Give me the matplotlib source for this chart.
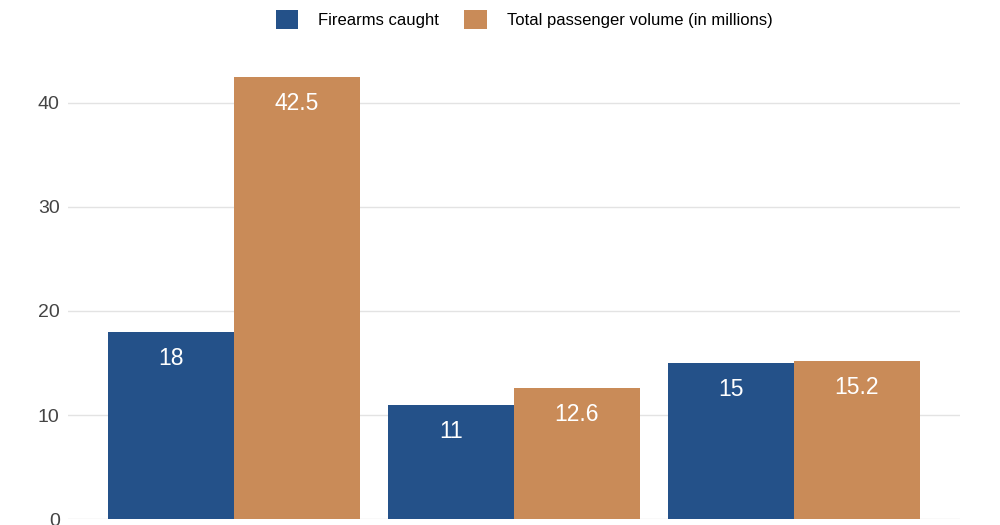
import matplotlib.pyplot as plt
import numpy as np

plt.rcParams['font.family'] = ['Liberation Sans', 'DejaVu Sans']

groups = ["Group 1", "Group 2", "Group 3"]
firearms = [18, 11, 15]
passengers = [42.5, 12.6, 15.2]
series_names = ["Firearms caught", "Total passenger volume (in millions)"]
colors = ["#245189", "#c98b58"]

fig = plt.figure(figsize=(10, 5.25), dpi=100)
ax = fig.add_axes([0.068, 6 / 525, 0.892, 468 / 525])

x = np.arange(len(groups))
w = 0.45
b1 = ax.bar(x - w / 2, firearms, w, color=colors[0], label=series_names[0])
b2 = ax.bar(x + w / 2, passengers, w, color=colors[1], label=series_names[1])

for bars, vals in [(b1, firearms), (b2, passengers)]:
    for rect, v in zip(bars, vals):
        ax.text(rect.get_x() + rect.get_width() / 2, v - 2.55, f"{v:g}",
                ha="center", va="center", color="white", fontsize=16.5)

ax.set_xlim(-0.593, 2.593)
ax.set_ylim(0, 45)
ax.set_yticks([0, 10, 20, 30, 40])
ax.yaxis.grid(True, color="#e3e3e3", linewidth=1)
ax.set_axisbelow(True)
ax.tick_params(axis="y", length=0, labelsize=14, labelcolor="#444444", pad=6)
ax.set_xticks([])
for s in ax.spines.values():
    s.set_visible(False)

fig.legend(handles=[b1, b2], loc="center", bbox_to_anchor=(0.524, 0.963),
           ncol=2, frameon=False, fontsize=12, handlelength=1.35,
           handleheight=1.4, handletextpad=1.2, columnspacing=1.5)

plt.savefig("out.png", dpi=100)
